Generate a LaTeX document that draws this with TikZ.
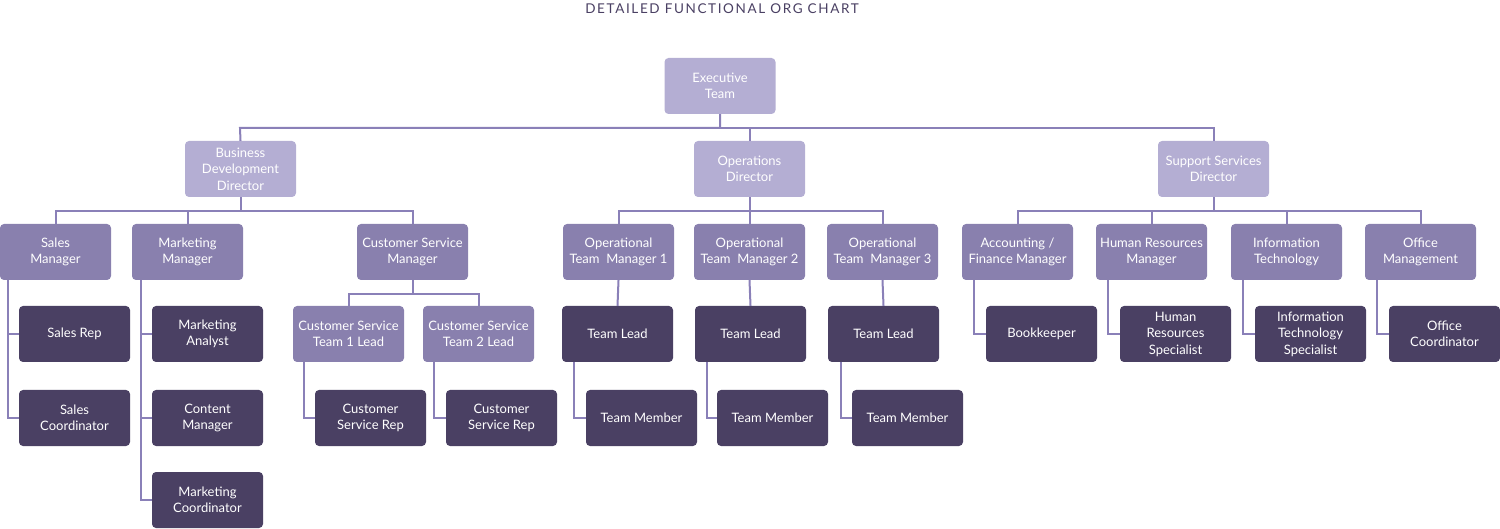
\documentclass[tikz,border=0pt]{standalone}
\usepackage{fontspec}
\setmainfont{Lato}
\begin{document}
\begin{tikzpicture}[x=1pt,y=-1pt,
 box/.style={rounded corners=4pt,minimum width=111pt,minimum height=56pt,inner sep=1pt,align=center,text=white,font=\fontsize{13}{16.5}\selectfont},
 l1/.style={box,fill=c1},l2/.style={box,fill=c2},l3/.style={box,fill=c3},
 ln/.style={draw=cl,line width=2pt}]
\definecolor{c1}{HTML}{B4AED3}\definecolor{c2}{HTML}{8980AE}\definecolor{c3}{HTML}{4A4063}\definecolor{cl}{HTML}{8A80B8}
\useasboundingbox (0,0) rectangle (1500,529);
\node[text=c3,font=\fontsize{13.5}{16}\selectfont\addfontfeatures{LetterSpace=12}] (title) at (722,9) {DETAILED FUNCTIONAL ORG CHART};
\node[l1] (ex) at (720,86) {Executive\\Team};
\node[l1] (bd) at (240.5,169) {Business\\Development\\Director};
\node[l1] (op) at (749.5,169) {Operations\\Director};
\node[l1] (ss) at (1213.5,169) {Support Services\\Director};
\node[l2] (sm) at (55.5,252) {Sales\\Manager};
\node[l2] (mm) at (187.5,252) {Marketing\\Manager};
\node[l2] (csm) at (412.5,252) {Customer Service\\Manager};
\node[l2] (o1) at (618.5,252) {Operational\\Team\ \ Manager 1};
\node[l2] (o2) at (749.5,252) {Operational\\Team\ \ Manager 2};
\node[l2] (o3) at (882.5,252) {Operational\\Team\ \ Manager 3};
\node[l2] (ac) at (1017.5,252) {Accounting /\\Finance Manager};
\node[l2] (hr) at (1151.5,252) {Human Resources\\Manager};
\node[l2] (it) at (1286.5,252) {Information\\Technology};
\node[l2] (om) at (1420.5,252) {Office\\Management};
\node[l3] (sr) at (74.5,334) {Sales Rep};
\node[l3] (sc) at (74.5,418) {Sales\\Coordinator};
\node[l3] (ma) at (207.5,334) {Marketing\\Analyst};
\node[l3] (cm) at (207.5,418) {Content\\Manager};
\node[l3] (mc) at (207.5,500) {Marketing\\Coordinator};
\node[l2] (t1) at (348.5,334) {Customer Service\\Team 1 Lead};
\node[l2] (t2) at (478.5,334) {Customer Service\\Team 2 Lead};
\node[l3] (r1) at (370.5,418) {Customer\\Service Rep};
\node[l3] (r2) at (501.5,418) {Customer\\Service Rep};
\node[l3] (tl1) at (617.5,334) {Team Lead};
\node[l3] (tl2) at (750.5,334) {Team Lead};
\node[l3] (tl3) at (883.5,334) {Team Lead};
\node[l3] (tm1) at (641.5,418) {Team Member};
\node[l3] (tm2) at (772.5,418) {Team Member};
\node[l3] (tm3) at (907.5,418) {Team Member};
\node[l3] (bk) at (1041.5,334) {Bookkeeper};
\node[l3] (hs) at (1175.5,334) {Human\\Resources\\Specialist};
\node[l3] (is) at (1310.5,334) {Information\\Technology\\Specialist};
\node[l3] (oc) at (1444.5,334) {Office\\Coordinator};
\begin{scope}[on background layer/.style={}]
\draw[ln] (ex.south) |- (240,128) -- (bd.north);
\draw[ln] (ex.south) |- (749.5,128) -- (op.north);
\draw[ln] (ex.south) |- (1213.5,128) -- (ss.north);
\foreach \c in {sm,mm,csm}{\draw[ln] (bd.south) |- (\c.north |- 0,211) -- (\c.north);}
\foreach \c in {o1,o2,o3}{\draw[ln] (op.south) |- (\c.north |- 0,211) -- (\c.north);}
\foreach \c in {ac,hr,it,om}{\draw[ln] (ss.south) |- (\c.north |- 0,211) -- (\c.north);}
\foreach \c in {t1,t2}{\draw[ln] (csm.south) |- (\c.north |- 0,294) -- (\c.north);}
\draw[ln] (o1.south) -- (tl1.north);
\draw[ln] (o2.south) -- (tl2.north);
\draw[ln] (o3.south) -- (tl3.north);
\draw[ln] (sm.south -| 8,0) |- (sr.west); \draw[ln] (sm.south -| 8,0) |- (sc.west);
\draw[ln] (mm.south -| 141,0) |- (ma.west); \draw[ln] (mm.south -| 141,0) |- (cm.west); \draw[ln] (mm.south -| 141,0) |- (mc.west);
\draw[ln] (t1.south -| 304,0) |- (r1.west);
\draw[ln] (t2.south -| 434,0) |- (r2.west);
\draw[ln] (tl1.south -| 574,0) |- (tm1.west);
\draw[ln] (tl2.south -| 707,0) |- (tm2.west);
\draw[ln] (tl3.south -| 841,0) |- (tm3.west);
\draw[ln] (ac.south -| 974,0) |- (bk.west);
\draw[ln] (hr.south -| 1108,0) |- (hs.west);
\draw[ln] (it.south -| 1243,0) |- (is.west);
\draw[ln] (om.south -| 1377,0) |- (oc.west);
\end{scope}
\end{tikzpicture}
\end{document}
